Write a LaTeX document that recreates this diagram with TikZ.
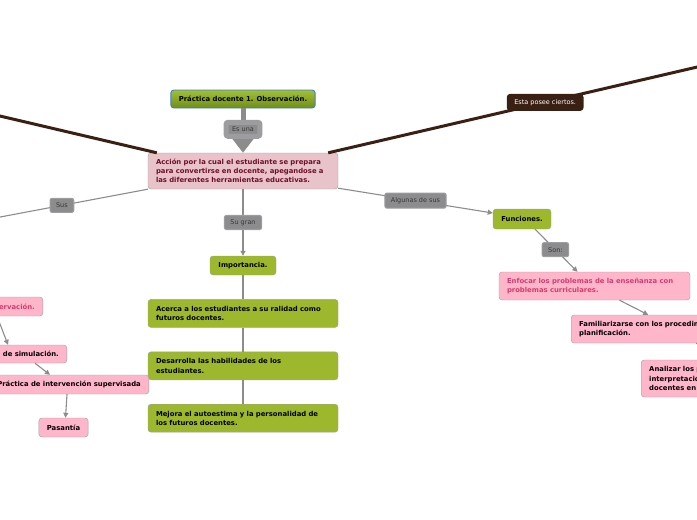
\documentclass[tikz,border=0pt]{standalone}
\usepackage{fontspec}
\setmainfont{DejaVu Sans}
\usepackage{xcolor}
\usepackage{tikz}
\usetikzlibrary{arrows.meta,positioning}

\definecolor{mapgreen}{RGB}{157,184,45}
\definecolor{mappink}{RGB}{255,182,203}
\definecolor{rootpink}{RGB}{232,196,202}
\definecolor{roottext}{RGB}{110,14,40}
\definecolor{pinktext}{RGB}{212,60,110}
\definecolor{trunkbrown}{RGB}{58,32,18}
\definecolor{labelgray}{RGB}{140,140,142}
\definecolor{labeltext}{RGB}{55,55,55}
\definecolor{linegray}{RGB}{140,140,140}
\definecolor{boxgray}{RGB}{160,160,160}
\definecolor{titleblue}{RGB}{60,125,215}

\begin{document}
\begin{tikzpicture}[
    x=1pt, y=-1pt,
    node distance=24pt,
    box/.style={rectangle, draw=boxgray, rounded corners=3pt, font=\fontsize{6.85}{9.3}\selectfont\bfseries, inner xsep=8pt, inner ysep=0pt},
    topic/.style={box, fill=mapgreen, text width=174pt, align=left, minimum height=28pt},
    leaf/.style={box, fill=mapgreen, align=center},
    stage/.style={box, fill=mappink, align=left, minimum height=19pt},
    lbl/.style={rectangle, draw=labelgray!85!white, fill=labelgray, rounded corners=2pt, text=labeltext, font=\fontsize{6.5}{7}\selectfont, inner xsep=6pt, inner ysep=0pt, minimum height=14pt},
    conn/.style={draw=linegray, line width=1.1pt, -{Triangle[length=5pt,width=5pt]}},
    line/.style={draw=linegray, line width=1.1pt},
    trunk/.style={draw=trunkbrown, line width=3pt}
]
\useasboundingbox (0,0) rectangle (697,520);
\clip (0,0) rectangle (697,520);

% Title
\node[box, top color={rgb,255:red,162;green,192;blue,52}, bottom color={rgb,255:red,112;green,142;blue,25}, draw=titleblue, line width=0.9pt, minimum width=144pt, minimum height=18pt] (title) at (243,99) {Práctica docente 1. Observación.};

% Root
\node[box, fill=rootpink, text=roottext, text width=174pt, align=left, minimum height=36pt] (main) at (243,171) {Acción por la cual el estudiante se prepara\\para convertirse en docente, apegandose a\\las diferentes herramientas educativas.};

% Importance branch
\node[leaf, minimum width=66pt, minimum height=19pt] (importance) at (243,265.5) {Importancia.};
\node[topic, below=24pt of importance] (approach) {Acerca a los estudiantes a su ralidad como\\futuros docentes.};
\node[topic, below=24pt of approach] (skills) {Desarrolla las habilidades de los\\estudiantes.};
\node[topic, below=24pt of skills] (esteem) {Mejora el autoestima y la personalidad de\\los futuros docentes.};

% Functions branch
\node[leaf, minimum width=58pt, minimum height=20pt] (functions) at (522,219) {Funciones.};
\node[stage, text=pinktext, text width=175pt, minimum height=28pt] (focus) at (594.5,286) {Enfocar los problemas de la enseñanza con\\problemas curriculares.};
\node[stage, text width=190pt, minimum height=28pt, anchor=west] (planning) at (571,329) {Familiarizarse con los procedimientos de\\planificación.};
\node[stage, text width=190pt, minimum height=37pt, anchor=west] (analysis) at (641,378.5) {Analizar los procesos de\\interpretación de las prácticas\\docentes en el aula.};

% Stages branch
\node[stage, text=pinktext, anchor=east] (observation) at (43,306.5) {Práctica de observación.};
\node[stage, minimum height=18pt, anchor=east] (simulation) at (67,354) {Práctica de simulación.};
\node[stage, anchor=east] (intervention) at (149,384.5) {Práctica de intervención supervisada};
\node[stage, align=center, minimum width=49pt] (internship) at (63.5,427.5) {Pasantía};

% Free ends
\coordinate (leftend) at (-30,109);
\coordinate (rightend) at (730,59.4);
\coordinate (susend) at (-20,220.8);

% Arrows
\draw[draw=linegray, line width=5pt, -{Triangle[width=22pt,length=15pt]}] (title) -- node[lbl, pos=0.47] {Es una} (main);
\draw[trunk] ([xshift=9pt]main.north west) -- (leftend);
\draw[trunk] ([xshift=-10pt]main.north east) -- node[lbl, fill=trunkbrown, draw=trunkbrown, text=white, pos=0.54] {Esta posee ciertos.} (rightend);
\draw[line] (main.south west) -- node[lbl, pos=0.512] {Sus} (susend);
\draw[conn] (main) -- node[lbl] {Su gran} (importance);
\draw[line] (importance) -- (approach);
\draw[line] (approach) -- (skills);
\draw[line] (skills) -- (esteem);
\draw[conn] ([yshift=1pt]main.south east) -- node[lbl, minimum height=15pt] {Algunas de sus} ([yshift=6pt]functions.west);
\draw[conn] ([xshift=13pt]functions.south) -- node[lbl, pos=0.48] {Son:} ([xshift=-17pt]focus.north);
\draw[conn] ([xshift=25pt]focus.south) -- ([xshift=-26pt]planning.north);
\draw[line] ([xshift=22pt]planning.south) -- ([xshift=-20pt]analysis.north);
\draw[conn] ([xshift=-46pt]observation.south east) -- ([xshift=-59pt]simulation.north east);
\draw[conn] ([xshift=-32pt]simulation.south east) -- ([xshift=-99pt]intervention.north east);
\draw[conn] ([xshift=-82pt]intervention.south east) -- ([xshift=2pt]internship.north);

\end{tikzpicture}
\end{document}
